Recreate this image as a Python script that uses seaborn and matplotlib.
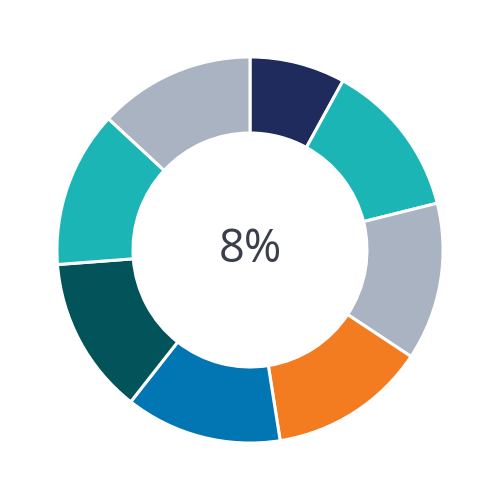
import matplotlib

matplotlib.use('Agg')
import matplotlib.pyplot as plt
import seaborn as sns

# slice shares, clockwise from 12 o'clock
shares = [8, 13.1, 13.2, 13.2, 13.1, 13.2, 13.1, 13.1]
colors = ['#1e2b5c', '#1cb5b6', '#a9b3c1', '#f37c21', '#0275b3', '#02545a', '#1cb5b6', '#a9b3c1']
center_label = '8%'

sns.set_theme(style='white')
plt.rcParams['font.family'] = ['Open Sans', 'DejaVu Sans']

fig, ax = plt.subplots(figsize=(5, 5), dpi=100)
fig.subplots_adjust(left=0, right=1, bottom=0, top=1)

ax.pie(
    shares,
    colors=colors,
    startangle=90,
    counterclock=False,
    radius=1.0,
    wedgeprops=dict(width=0.394, edgecolor='white', linewidth=2.2),
)
ax.text(0, 0, center_label, ha='center', va='center', fontsize=32.5, color='#3a3f4b')
ax.set_xlim(-1.295, 1.295)
ax.set_ylim(-1.295, 1.295)
ax.set_aspect('equal')
ax.axis('off')

plt.savefig('out.png', dpi=100)
plt.close()
